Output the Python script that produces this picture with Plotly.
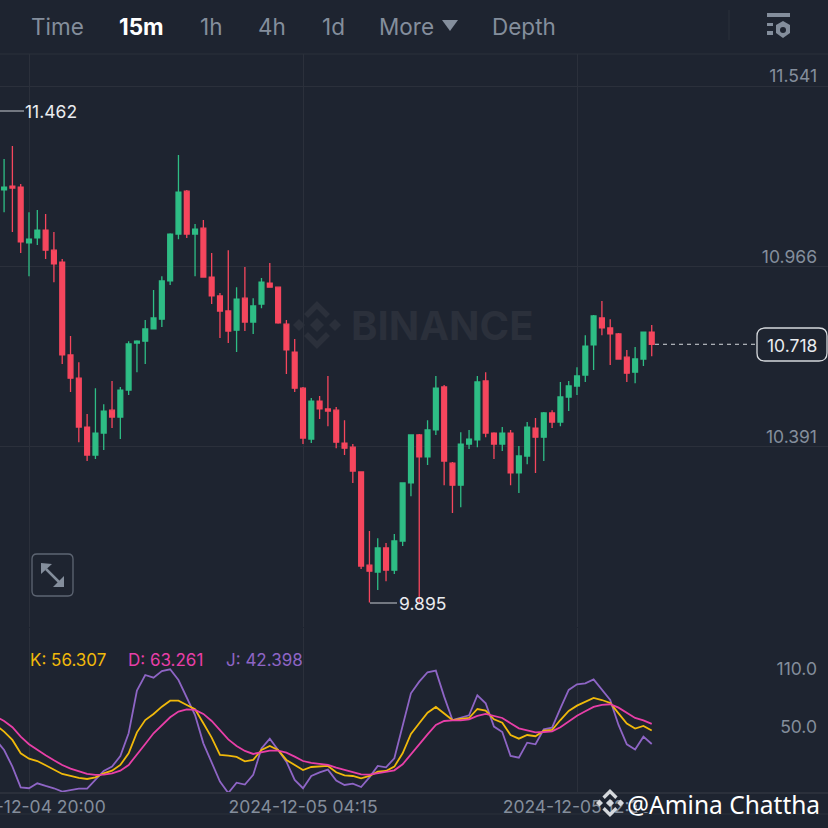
import plotly.graph_objects as go

# 15m candles, index 0 is the leftmost visible one
opens = [11.210, 11.222, 11.219, 11.041, 11.057, 11.082, 11.018, 10.980, 10.684, 10.610,
         10.454, 10.365, 10.435, 10.508, 10.486, 10.572, 10.722, 10.728, 10.767, 10.798,
         10.920, 11.069, 11.206, 11.069, 11.088, 10.932, 10.872, 10.824, 10.763, 10.865,
         10.789, 10.846, 10.913, 10.900, 10.782, 10.693, 10.578, 10.416, 10.537, 10.512,
         10.508, 10.403, 10.390, 10.311, 10.014, 9.992, 10.069, 9.998, 10.091, 10.276,
         10.429, 10.359, 10.445, 10.582, 10.339, 10.269, 10.400, 10.413, 10.601, 10.435,
         10.400, 10.435, 10.308, 10.362, 10.451, 10.422, 10.499, 10.470, 10.550, 10.585,
         10.620, 10.716, 10.802, 10.770, 10.751, 10.677, 10.629, 10.671, 10.757]
highs = [11.308, 11.350, 11.229, 11.139, 11.146, 11.133, 11.076, 10.990, 10.744, 10.661,
         10.496, 10.578, 10.527, 10.601, 10.582, 10.728, 10.731, 10.795, 10.891, 10.935,
         11.072, 11.321, 11.210, 11.101, 11.114, 11.009, 10.881, 11.018, 10.900, 10.964,
         10.865, 10.929, 10.977, 10.900, 10.795, 10.735, 10.582, 10.547, 10.553, 10.617,
         10.518, 10.476, 10.400, 10.311, 10.123, 10.100, 10.085, 10.113, 10.276, 10.429,
         10.432, 10.476, 10.617, 10.588, 10.343, 10.438, 10.445, 10.617, 10.629, 10.438,
         10.454, 10.445, 10.394, 10.470, 10.483, 10.502, 10.508, 10.598, 10.601, 10.645,
         10.747, 10.811, 10.856, 10.798, 10.754, 10.700, 10.709, 10.757, 10.779]
lows = [11.139, 11.076, 11.009, 10.935, 11.034, 10.990, 10.916, 10.655, 10.566, 10.406,
        10.346, 10.352, 10.381, 10.451, 10.416, 10.556, 10.629, 10.655, 10.767, 10.773,
        10.907, 11.053, 11.057, 10.935, 10.932, 10.846, 10.738, 10.722, 10.693, 10.760,
        10.751, 10.833, 10.900, 10.783, 10.623, 10.566, 10.400, 10.403, 10.480, 10.457,
        10.387, 10.365, 10.276, 10.002, 9.895, 9.935, 9.963, 9.986, 10.075, 10.234,
        9.896, 10.333, 10.429, 10.269, 10.180, 10.199, 10.384, 10.390, 10.422, 10.352,
        10.378, 10.269, 10.244, 10.336, 10.308, 10.346, 10.451, 10.457, 10.505, 10.556,
        10.598, 10.636, 10.747, 10.652, 10.671, 10.598, 10.594, 10.649, 10.680]
closes = [11.219, 11.216, 11.044, 11.053, 11.082, 11.018, 10.974, 10.684, 10.610, 10.454,
          10.365, 10.435, 10.505, 10.486, 10.572, 10.719, 10.728, 10.767, 10.802, 10.920,
          11.069, 11.203, 11.069, 11.085, 10.932, 10.872, 10.824, 10.760, 10.862, 10.789,
          10.840, 10.916, 10.900, 10.786, 10.700, 10.578, 10.419, 10.537, 10.512, 10.505,
          10.406, 10.387, 10.314, 10.011, 9.995, 10.069, 9.998, 10.091, 10.276, 10.429,
          10.359, 10.445, 10.578, 10.346, 10.269, 10.400, 10.416, 10.598, 10.435, 10.400,
          10.435, 10.308, 10.362, 10.454, 10.422, 10.499, 10.470, 10.550, 10.585, 10.617,
          10.712, 10.808, 10.770, 10.751, 10.671, 10.626, 10.671, 10.757, 10.718]

# KDJ starts one candle earlier so the lines run off the left edge
k_vals = [62.1, 55.2, 46.6, 32.8, 27.2, 24.8, 20.4, 16.2, 11.4, 9.3, 7.3, 6.2, 7.9, 12.1, 14.8, 20.7,
          32.8, 54.5, 67.2, 73.5, 81.0, 87.2, 87.2, 82.8, 78.3, 63.8, 49.0, 31.0, 30.4, 29.0,
          24.5, 25.9, 36.2, 40.4, 36.2, 25.9, 20.7, 15.5, 18.6, 19.0, 19.7, 13.1, 10.0, 9.3,
          6.9, 9.3, 13.8, 14.5, 19.0, 32.8, 52.8, 63.8, 74.8, 80.7, 73.5, 67.2, 68.3, 69.3,
          78.6, 76.9, 67.9, 64.5, 51.7, 47.9, 51.7, 50.4, 56.2, 56.9, 67.2, 76.6, 82.1, 85.9,
          90.0, 87.9, 84.8, 74.1, 63.5, 58.3, 61.0, 56.307]
d_vals = [70.7, 66.2, 59.7, 50.0, 42.1, 36.2, 30.7, 25.5, 20.7, 16.9, 13.8, 11.4, 10.4, 10.7, 12.1,
          14.8, 20.7, 31.0, 42.4, 53.5, 62.1, 70.0, 75.9, 78.3, 77.6, 73.5, 66.2, 56.2, 47.2,
          40.4, 35.2, 32.1, 33.5, 35.5, 35.5, 33.5, 29.3, 24.8, 22.8, 21.4, 20.7, 17.9, 15.5,
          13.1, 11.0, 10.7, 12.1, 13.1, 15.2, 21.4, 32.1, 42.4, 52.4, 62.1, 66.2, 66.9, 66.9,
          67.9, 71.4, 73.5, 71.4, 69.3, 63.8, 58.6, 56.6, 54.5, 54.8, 55.5, 59.7, 65.5, 71.7,
          76.2, 80.7, 82.8, 83.5, 80.0, 74.5, 69.3, 66.9, 63.261]
j_vals = [46.6, 36.2, 19.0, -2.4, -3.4, 1.7, -1.0, -3.4, -6.9, -5.2, -3.8, -3.8, 5.2, 14.5, 19.0,
          30.0, 53.5, 97.6, 113.8, 111.0, 117.9, 119.7, 108.6, 89.7, 72.4, 43.1, 22.4, 3.5,
          -8.3, 2.4, 0.4, 10.4, 37.9, 47.9, 36.2, 24.1, 5.2, -3.4, 9.3, 13.1, 15.9, 4.5, 0.0,
          1.4, -2.1, 7.9, 19.7, 18.3, 27.6, 62.1, 94.8, 106.9, 116.6, 118.3, 91.4, 67.2, 70.0,
          72.1, 92.8, 84.5, 60.4, 54.8, 30.0, 28.3, 43.8, 42.1, 57.6, 59.3, 79.3, 98.3, 104.1,
          105.2, 109.3, 99.0, 87.9, 62.1, 42.1, 36.6, 50.0, 42.398]

price_ticks = [11.541, 10.966, 10.391, 9.816]
kdj_ticks = [110.0, 50.0]
time_ticks = [3, 36, 69]
time_labels = ["2024-12-04 20:00", "2024-12-05 04:15", "2024-12-05 12:30"]
nav_items = [("Time", 57), ("15m", 141), ("1h", 211), ("4h", 272), ("1d", 333), ("More", 406), ("Depth", 524)]

BG = "#1e2430"
GRID = "#2b303b"
GREY = "#848e9c"
SIZE = 828


def px(x):
    return x / SIZE


def py(y):
    return 1 - y / SIZE


def label(x, y, text, color, size=17, anchor="left", family=None):
    """Text placed in screen pixels, y counted from the top."""
    font = {"size": size, "color": color}
    if family:
        font["family"] = family
    return {"xref": "paper", "yref": "paper", "x": px(x), "y": py(y), "text": text, "xanchor": anchor,
            "yanchor": "middle", "showarrow": False, "font": font}


def path_shape(points, fill=None, line=None, width=0, close=True):
    """Decoration drawn in screen pixels, y counted from the top."""
    d = "M" + " L".join(f"{px(x):.5f},{py(y):.5f}" for x, y in points) + (" Z" if close else "")
    return {
        "type": "path", "xref": "paper", "yref": "paper", "path": d,
        "fillcolor": fill or "rgba(0,0,0,0)",
        "line": {"color": line or "rgba(0,0,0,0)", "width": width},
    }


def rounded_box(x0, y0, x1, y1, r, line):
    d = (f"M{px(x0 + r):.5f},{py(y0):.5f} L{px(x1 - r):.5f},{py(y0):.5f} "
         f"Q{px(x1):.5f},{py(y0):.5f} {px(x1):.5f},{py(y0 + r):.5f} "
         f"L{px(x1):.5f},{py(y1 - r):.5f} Q{px(x1):.5f},{py(y1):.5f} {px(x1 - r):.5f},{py(y1):.5f} "
         f"L{px(x0 + r):.5f},{py(y1):.5f} Q{px(x0):.5f},{py(y1):.5f} {px(x0):.5f},{py(y1 - r):.5f} "
         f"L{px(x0):.5f},{py(y0 + r):.5f} Q{px(x0):.5f},{py(y0):.5f} {px(x0 + r):.5f},{py(y0):.5f} Z")
    return {"type": "path", "xref": "paper", "yref": "paper", "path": d,
            "fillcolor": "rgba(0,0,0,0)", "line": {"color": line, "width": 1.3}}


def hline(x0, x1, y, color=GRID, width=1):
    return {"type": "line", "xref": "paper", "yref": "paper", "x0": px(x0), "x1": px(x1),
            "y0": py(y), "y1": py(y), "line": {"color": color, "width": width}}


def logo(cx, cy, r, color):
    """Binance mark: centre and side diamonds plus top and bottom chevrons."""
    u = r / 24
    shapes = []
    for dx, s in ((0, 7), (-18, 6), (18, 6)):
        pts = [(cx + dx * u, cy - s * u), (cx + (dx + s) * u, cy), (cx + dx * u, cy + s * u), (cx + (dx - s) * u, cy)]
        shapes.append(path_shape(pts, fill=color))
    for sign in (-1, 1):
        pts = [(cx, cy + sign * 24 * u), (cx + 13 * u, cy + sign * 11 * u), (cx + 9 * u, cy + sign * 7 * u),
               (cx, cy + sign * 16 * u), (cx - 9 * u, cy + sign * 7 * u), (cx - 13 * u, cy + sign * 11 * u)]
        shapes.append(path_shape(pts, fill=color))
    return shapes


fig = go.Figure()
fig.add_trace(go.Candlestick(
    x=list(range(len(opens))), open=opens, high=highs, low=lows, close=closes,
    whiskerwidth=0, xaxis="x", yaxis="y",
    increasing={"line": {"color": "#2ebd85", "width": 1.3}, "fillcolor": "#2ebd85"},
    decreasing={"line": {"color": "#f6465d", "width": 1.3}, "fillcolor": "#f6465d"},
))
kdj_x = list(range(-1, len(opens)))
for name, values, color in (("J", j_vals, "#8e65c5"), ("K", k_vals, "#f0b90b"), ("D", d_vals, "#e83fa8")):
    fig.add_trace(go.Scatter(x=kdj_x, y=values, name=name, mode="lines", xaxis="x", yaxis="y2",
                             line={"color": color, "width": 1.8}))

annotations = []
for text, x in nav_items:
    active = text == "15m"
    annotations.append(label(x, 26, f"<b>{text}</b>" if active else text, "#ffffff" if active else GREY,
                             size=22.5, anchor="center", family="Inter"))

annotations += [
    label(28, 660, "K: 56.307", "#f0b90b"),
    label(126, 660, "D: 63.261", "#e83fa8"),
    label(224, 660, "J: 42.398", "#8e65c5"),
    label(23, 111, "11.462", "#eaecef", size=17.5),
    label(397, 603, "9.895", "#eaecef", size=17.5),
    label(792, 345, "10.718", "#eaecef", size=17.5, anchor="center"),
    label(349, 325, "<b>BINANCE</b>", "#2b303b", size=40, family="Inter"),
    label(822, 804, "@Amina Chattha", "#ffffff", size=24.5, anchor="right", family="Noto Sans"),
]

shapes = [
    hline(0, SIZE, 54),
    hline(0, SIZE, 793, width=2),
    hline(0, SIZE, 814),
    {"type": "line", "xref": "paper", "yref": "paper", "x0": px(729), "x1": px(729), "y0": py(10), "y1": py(40),
     "line": {"color": GRID, "width": 1}},
    # high / low markers
    hline(0, 24, 111, color="#c8ccd2"),
    hline(370, 397, 603, color="#c8ccd2"),
    # last price
    {"type": "line", "xref": "paper", "yref": "y", "x0": px(655), "x1": px(756), "y0": closes[-1], "y1": closes[-1],
     "line": {"color": "#d5d8dc", "width": 1, "dash": "4px,4px"}},
    rounded_box(757, 328, 827, 361, 8, "#d5d8dc"),
    # dropdown triangle
    path_shape([(442, 20), (458, 20), (450, 31)], fill=GREY),
    # settings icon
    path_shape([(767, 13), (790, 13), (790, 17), (767, 17)], fill=GREY),
    path_shape([(767, 23), (773, 23), (773, 26), (767, 26)], fill=GREY),
    path_shape([(767, 31), (773, 31), (773, 35), (767, 35)], fill=GREY),
    path_shape([(783, 21), (790, 25), (790, 33), (783, 38), (776, 33), (776, 25)], fill=GREY),
    {"type": "circle", "xref": "paper", "yref": "paper", "x0": px(780), "x1": px(786), "y0": py(27), "y1": py(33),
     "fillcolor": BG, "line": {"width": 0}},
    # expand button
    rounded_box(32, 554, 73, 596, 5, "#5e6673"),
    path_shape([(41, 563), (52, 564), (41, 574)], fill=GREY),
    path_shape([(64, 587), (53, 587), (64, 576)], fill=GREY),
    path_shape([(46, 569), (59, 582)], line=GREY, width=2.5, close=False),
    # the screenshot's handle text hides the tail of the last date
    {"type": "rect", "xref": "paper", "yref": "paper", "x0": px(637), "x1": px(662), "y0": py(796), "y1": py(812),
     "fillcolor": BG, "line": {"width": 0}, "layer": "above"},
]
shapes += logo(317, 325, 24, "#2b303b")
shapes += logo(610, 803, 14, "#d5d8dc")

fig.update_layout(
    width=SIZE, height=SIZE,
    # the clipped first date must not push the plot area in
    margin={"l": 0, "r": 0, "t": 0, "b": 0, "autoexpand": False},
    paper_bgcolor=BG, plot_bgcolor=BG,
    font={"family": "Inter, Roboto, sans-serif", "size": 17, "color": GREY},
    showlegend=False,
    boxgap=0.17,
    xaxis={
        "domain": [0, 1], "range": [-0.493, 99.23], "anchor": "y2", "rangeslider": {"visible": False},
        "tickmode": "array", "tickvals": time_ticks, "ticktext": time_labels, "ticks": "",
        "showgrid": True, "gridcolor": GRID, "gridwidth": 1, "zeroline": False, "showline": False,
        "tickfont": {"size": 17.5, "color": GREY}, "ticklabelstandoff": 1, "ticklabeloverflow": "allow",
    },
    yaxis={
        "domain": [py(627), py(54)], "range": [9.817, 11.643], "anchor": "x", "side": "right",
        "tickmode": "array", "tickvals": price_ticks, "ticktext": [f"{t:.3f}" for t in price_ticks],
        "ticklabelposition": "inside", "ticklabelshift": -10, "ticklabelstandoff": 8, "ticks": "",
        "showgrid": True, "gridcolor": GRID, "gridwidth": 1, "zeroline": False, "showline": False,
        "tickfont": {"size": 17.5, "color": GREY},
    },
    yaxis2={
        "domain": [py(793), py(628)], "range": [-8.3, 162.4], "anchor": "x", "side": "right",
        "tickmode": "array", "tickvals": kdj_ticks, "ticktext": [f"{t:.1f}" for t in kdj_ticks],
        "ticklabelposition": "inside", "ticklabelshift": -10, "ticklabelstandoff": 8, "ticks": "",
        "showgrid": False, "zeroline": False, "showline": False,
        "tickfont": {"size": 17.5, "color": GREY},
    },
    shapes=shapes,
    annotations=annotations,
)

fig.write_html("out.html", config={"displayModeBar": False},
               post_script="document.body.style.margin='0';document.body.style.overflow='hidden';")
